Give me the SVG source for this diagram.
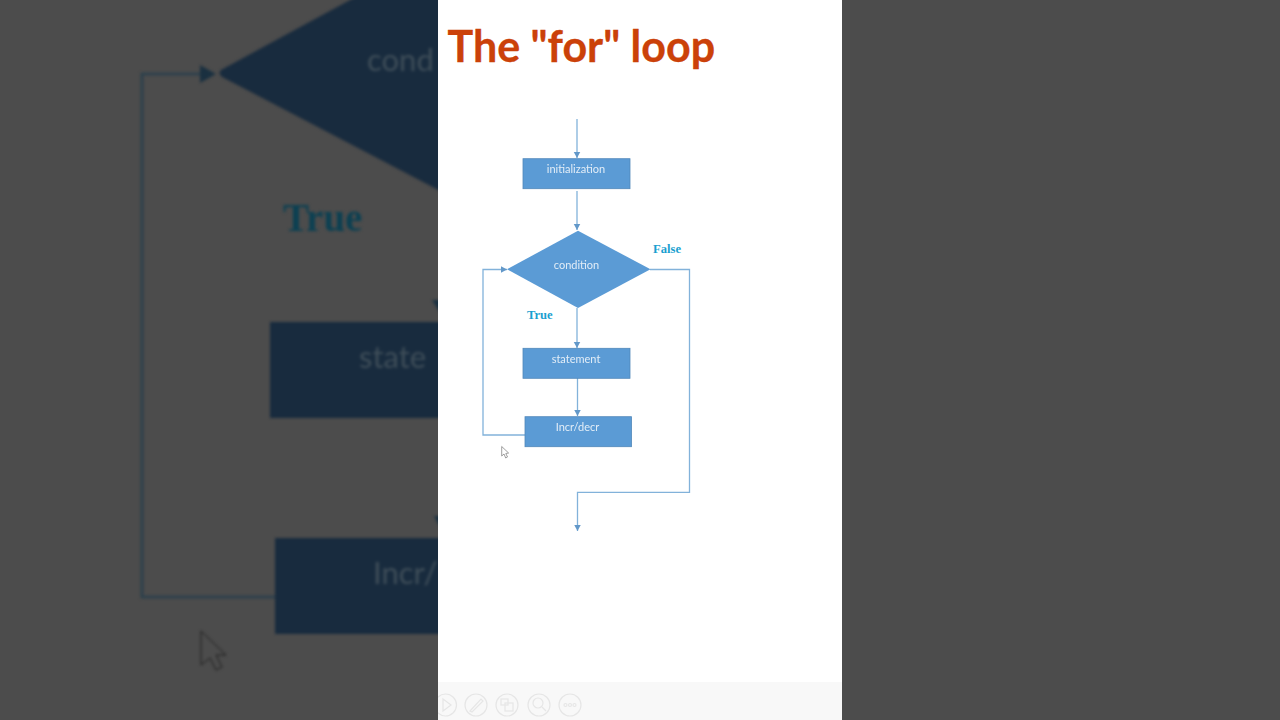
<svg xmlns="http://www.w3.org/2000/svg" width="1280" height="720" viewBox="0 0 1280 720">
<style>
.bgline{fill:none;stroke:#293f4c;stroke-width:2.6}
.bgshape{fill:#182b3e}
.bgtxt{font-family:"Lato","Liberation Sans",sans-serif;font-size:31px;fill:#3f4e59}
.box{fill:#5b9bd5;stroke:#5288ba;stroke-width:.8}
.lbl{font-family:"Lato","Liberation Sans",sans-serif;font-size:11px;fill:#e2edf7;text-anchor:middle}
.flag{font-family:"Liberation Serif",serif;font-weight:bold;font-size:12.6px;fill:#1a9fd0}
.conn{fill:none;stroke:#82b2da;stroke-width:1.3}
.tool{fill:none;stroke:#e6e6e6;stroke-width:1.2}
</style>
<defs>
<marker id="arr" markerUnits="userSpaceOnUse" markerWidth="8" markerHeight="8" refX="6.5" refY="3.5" orient="auto"><path d="M0 0L6.5 3.5L0 7Z" fill="#6298c9"/></marker>
<filter id="soft" x="-5%" y="-5%" width="110%" height="110%" color-interpolation-filters="sRGB"><feGaussianBlur stdDeviation="1.5"/></filter>
<filter id="soft2" x="-5%" y="-5%" width="110%" height="110%" color-interpolation-filters="sRGB"><feGaussianBlur stdDeviation="0.45"/></filter>
</defs>
<rect width="1280" height="720" fill="#4c4c4c"/>
<g id="backdrop" filter="url(#soft)">
<path class="bgshape" d="M221 70L446 -52L680 72L446 194L224 78Q217 74 221 70Z"/>
<rect class="bgshape" x="270" y="322" width="342" height="96"/>
<rect class="bgshape" x="275" y="538" width="342" height="96"/>
<path class="bgline" d="M275 597H142V74H203"/>
<path d="M200 65L216 74L200 83Z" fill="#1a3040"/>
<path d="M432 300L446 322L446 300Z" fill="#1a3040"/>
<path d="M434 516L446 538L446 516Z" fill="#1a3040"/>
<text class="bgtxt" x="367" y="71">cond</text>
<text class="bgtxt" x="359" y="368">state</text>
<text class="bgtxt" x="373" y="584">Incr/</text>
<text x="283" y="231" font-family="Liberation Serif,serif" font-weight="bold" font-size="39" fill="#0c4052">True</text>
<path d="M201 631V665L210 658L216 670L222 667L216 655L226 655Z" fill="#4c4c4c" stroke="#1c1c1c" stroke-width="1"/>
</g>
<rect x="438" width="404" height="720" fill="#fff"/>
<rect x="438" y="682" width="404" height="38" fill="#f8f8f8"/>
<text x="447.5" y="62" font-family="Lato,Open Sans,sans-serif" font-weight="bold" font-size="43" fill="#cb4109" stroke="#cb4109" stroke-width=".3">The "for" loop</text>
<g id="connectors" filter="url(#soft2)">
<path class="conn" d="M577 119V158" marker-end="url(#arr)"/>
<path class="conn" d="M577 191V230" marker-end="url(#arr)"/>
<path class="conn" d="M577 308V348" marker-end="url(#arr)"/>
<path class="conn" d="M577.5 378V416" marker-end="url(#arr)"/>
<path class="conn" d="M525 435H483V269.5H507" marker-end="url(#arr)"/>
<path class="conn" d="M650 269.5H689.5V492.3H577.5V531" marker-end="url(#arr)"/>
</g>
<g id="node-init" filter="url(#soft2)"><rect class="box" x="523" y="158.7" width="107" height="30"/><text class="lbl" x="576" y="173">initialization</text></g>
<g id="node-cond" filter="url(#soft2)"><path d="M507 269.3L578 230.7L650.5 269.3L578 308Z" fill="#5b9bd5"/><text class="lbl" x="576.5" y="268.5">condition</text></g>
<g id="node-stmt" filter="url(#soft2)"><rect class="box" x="523" y="348.3" width="107" height="30"/><text class="lbl" x="576" y="362.5">statement</text></g>
<g id="node-incr" filter="url(#soft2)"><rect class="box" x="525" y="416.7" width="106.5" height="30"/><text class="lbl" x="577.5" y="430.5">Incr/decr</text></g>
<text class="flag" x="653" y="253">False</text>
<text class="flag" x="527" y="319">True</text>
<path d="M501.7 446.5V456L504 454L505.7 458L507.5 457L505.8 453.5L508.6 453Z" fill="#fff" stroke="#777" stroke-width=".7"/>
<g id="toolbar" filter="url(#soft2)">
<clipPath id="tb"><rect x="438" y="682" width="404" height="38"/></clipPath>
<g clip-path="url(#tb)">
<circle class="tool" cx="445.5" cy="705" r="11"/><path class="tool" d="M443 699V711L451 705Z"/>
<circle class="tool" cx="476" cy="705" r="11"/><path class="tool" d="M470 711L481 699L483 701L472 712Z"/>
<circle class="tool" cx="507" cy="705" r="11"/><rect class="tool" x="501" y="699" width="7" height="6"/><rect class="tool" x="505" y="703" width="8" height="8"/>
<circle class="tool" cx="539" cy="705" r="11"/><circle class="tool" cx="538" cy="703" r="5"/><path class="tool" d="M542 707L546 711"/>
<circle class="tool" cx="570" cy="705" r="11"/><circle class="tool" cx="565.5" cy="705" r="1.5"/><circle class="tool" cx="570" cy="705" r="1.5"/><circle class="tool" cx="574.5" cy="705" r="1.5"/>
</g>
</g>
</svg>
